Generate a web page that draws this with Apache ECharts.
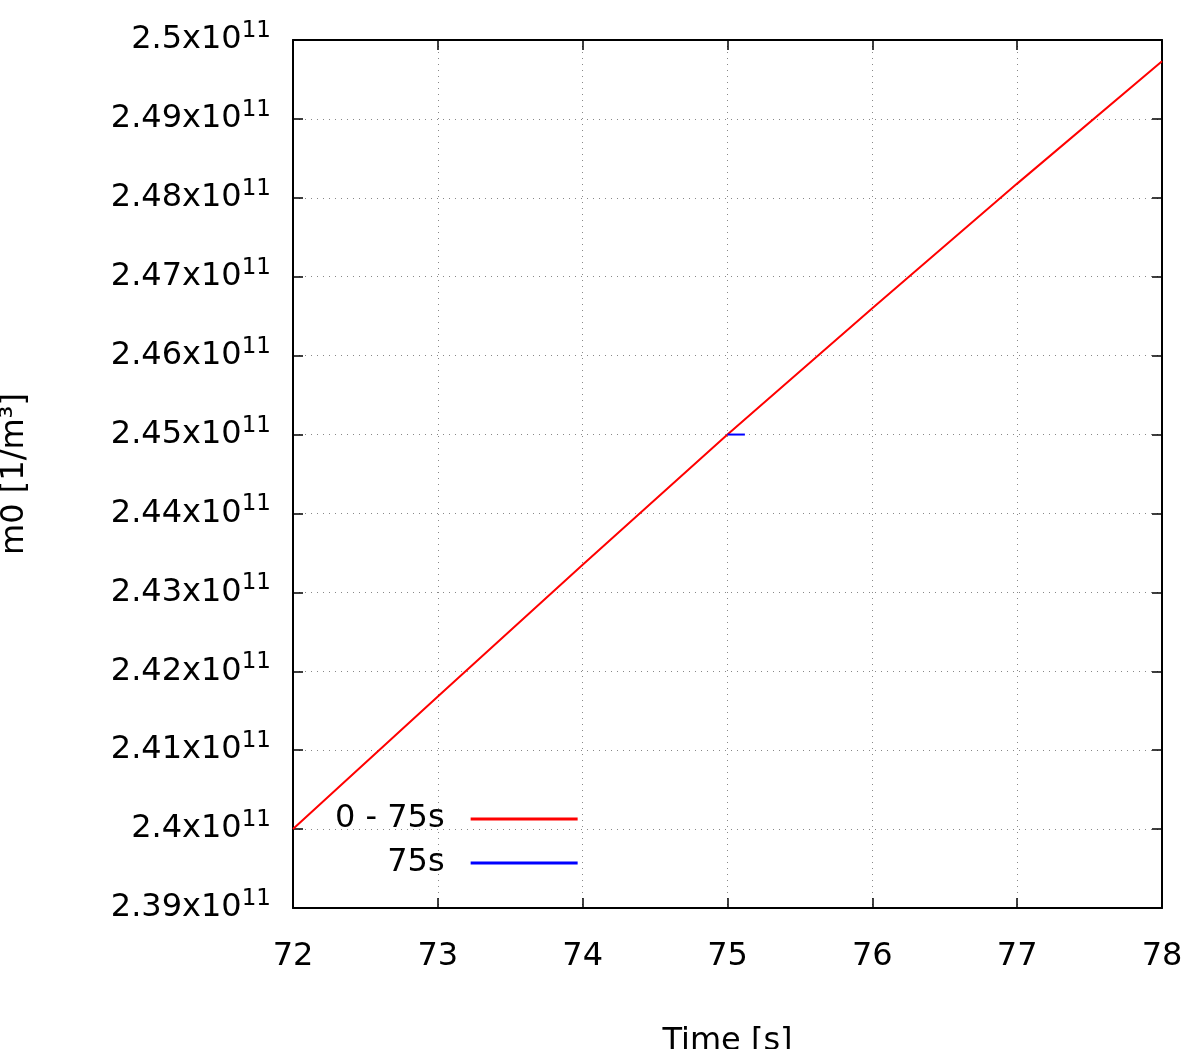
<!DOCTYPE html>
<html><head><meta charset="utf-8">
<script src="https://cdn.jsdelivr.net/npm/echarts@6/dist/echarts.min.js"></script>
<style>html,body{margin:0;background:#fff}#c{width:1202px;height:1049px}</style>
</head><body><div id="c"></div>
<script>
const times = [72, 73, 74, 75, 76, 77, 78];
const m0Values = [2.400e11, 2.4168e11, 2.4335e11, 2.450e11, 2.4660e11, 2.4818e11, 2.4973e11];
const restartTimes = [75, 75.12];
const restartValues = [2.45e11, 2.45e11];

const font = 'DejaVu Sans';
const chart = echarts.init(document.getElementById('c'));
const gridLine = { show: true, lineStyle: { color: '#888', type: [1, 5], width: 1 } };
const axisLine = { show: true, lineStyle: { color: '#000', width: 2 } };
const tick = { show: true, inside: true, length: 10, lineStyle: { color: '#000', width: 1.5 } };

chart.setOption({
  animation: false,
  textStyle: { fontFamily: font },
  grid: { left: 293, right: 40, top: 40, bottom: 141, outerBoundsMode: 'none', containLabel: false },
  xAxis: [{
    type: 'value', min: 72, max: 78, interval: 1,
    name: 'Time [s]', nameLocation: 'middle', nameGap: 118,
    nameTextStyle: { fontSize: 32, color: '#000', fontFamily: font },
    axisLine, axisTick: tick, splitLine: gridLine,
    axisLabel: { fontSize: 32, color: '#000', margin: 33, fontFamily: font }
  }, {
    type: 'value', position: 'top', min: 72, max: 78, interval: 1,
    axisLine, axisTick: tick, splitLine: { show: false }, axisLabel: { show: false }
  }],
  yAxis: [{
    type: 'value', min: 2.39e11, max: 2.5e11, interval: 1e9,
    name: 'm0 [1/m³]', nameLocation: 'middle', nameGap: 262,
    nameTextStyle: { fontSize: 32, color: '#000', fontFamily: font },
    axisLine, axisTick: tick, splitLine: gridLine,
    axisLabel: {
      margin: 22, fontFamily: font,
      formatter: v => '{a|' + parseFloat((v / 1e11).toFixed(2)) + 'x10}{s|11}',
      rich: {
        a: { fontSize: 32, color: '#000', fontFamily: font },
        s: { fontSize: 23, color: '#000', fontFamily: font, padding: [0, 0, 18, 0] }
      }
    }
  }, {
    type: 'value', position: 'right', min: 2.39e11, max: 2.5e11, interval: 1e9,
    axisLine, axisTick: tick, splitLine: { show: false }, axisLabel: { show: false }
  }],
  legend: {
    orient: 'vertical', left: 330, top: 798, align: 'right',
    itemWidth: 107, itemHeight: 3, itemGap: 12,
    icon: 'rect',
    textStyle: { fontSize: 32, color: '#000', fontFamily: font, width: 138, align: 'right', padding: [0, 21, 0, 0] },
    data: ['0 - 75s', '75s']
  },
  series: [{
    name: '0 - 75s', type: 'line', showSymbol: false,
    data: times.map((t, i) => [t, m0Values[i]]),
    lineStyle: { color: '#ff0000', width: 2 }, itemStyle: { color: '#ff0000' }
  }, {
    name: '75s', type: 'line', showSymbol: false,
    data: restartTimes.map((t, i) => [t, restartValues[i]]),
    lineStyle: { color: '#0000ff', width: 2 }, itemStyle: { color: '#0000ff' }
  }]
});
</script></body></html>
